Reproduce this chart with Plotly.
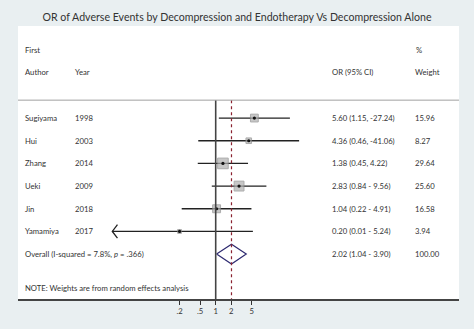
import plotly.graph_objects as go
import numpy as np

authors = ["Sugiyama", "Hui", "Zhang", "Ueki", "Jin", "Yamamiya"]
years = ["1998", "2003", "2014", "2009", "2018", "2017"]
or_est = [5.60, 4.36, 1.38, 2.83, 1.04, 0.20]
ci_lo = [1.15, 0.46, 0.45, 0.84, 0.22, 0.01]
ci_hi = [27.24, 41.06, 4.22, 9.56, 4.91, 5.24]
or_text = ["5.60 (1.15, -27.24)", "4.36 (0.46, -41.06)", "1.38 (0.45, 4.22)",
           "2.83 (0.84 - 9.56)", "1.04 (0.22 - 4.91)", "0.20 (0.01 - 5.24)"]
weights = ["15.96", "8.27", "29.64", "25.60", "16.58", "3.94"]
w_num = [15.96, 8.27, 29.64, 25.60, 16.58, 3.94]

overall_label = "Overall (I-squared = 7.8%, <i>p</i> = .366)"
overall_est, overall_lo, overall_hi = 2.02, 1.04, 3.90
overall_text = "2.02 (1.04 - 3.90)"
overall_weight = "100.00"
note = "NOTE: Weights are from random effects analysis"
tick_vals = [0.2, 0.5, 1, 2, 5]
tick_text = [".2", ".5", "1", "2", "5"]
clipped = [False, False, False, False, False, True]

title = "OR of Adverse Events by Decompression and Endotherapy Vs Decompression Alone"

TXT = "#333333"
FONT = "Lato"
rows = list(range(len(authors)))
overall_row = len(authors)
note_row = 7.5
top_line = -0.79

fig = go.Figure()

# CI lines
for i in rows:
    fig.add_trace(go.Scatter(x=[ci_lo[i], ci_hi[i]], y=[i, i], mode="lines",
                             line=dict(color="#222", width=1.3),
                             showlegend=False, hoverinfo="skip"))
    if clipped[i]:
        lo = ci_lo[i]
        fig.add_trace(go.Scatter(x=[lo * 10 ** 0.1, lo, lo * 10 ** 0.1], y=[i - 0.3, i, i + 0.3],
                                 mode="lines", line=dict(color="#222", width=1.3),
                                 showlegend=False, hoverinfo="skip"))

# weight squares
sizes = [np.sqrt(w) * 1.95 for w in w_num]
fig.add_trace(go.Scatter(x=or_est, y=rows, mode="markers",
                         marker=dict(symbol="square", size=sizes, color="#b0b0b0",
                                     line=dict(color="#8a8a8a", width=1)),
                         showlegend=False, hoverinfo="skip"))
fig.add_trace(go.Scatter(x=or_est, y=rows, mode="markers",
                         marker=dict(symbol="circle", size=3.2, color="#111"),
                         showlegend=False, hoverinfo="skip"))

# diamond
fig.add_trace(go.Scatter(x=[overall_lo, overall_est, overall_hi, overall_est, overall_lo],
                         y=[overall_row, overall_row - 0.44, overall_row, overall_row + 0.44, overall_row],
                         mode="lines", line=dict(color="#2e2a70", width=1.2),
                         showlegend=False, hoverinfo="skip"))

# reference lines
fig.add_shape(type="line", xref="x", yref="y", x0=1, x1=1, y0=top_line, y1=7.98,
              line=dict(color="#444", width=1.6))
fig.add_shape(type="line", xref="x", yref="y", x0=overall_est, x1=overall_est, y0=top_line, y1=7.98,
              line=dict(color="#8b2230", width=1.2, dash="dot"))
fig.add_shape(type="line", xref="paper", yref="y", x0=0, x1=1, y0=top_line, y1=top_line,
              line=dict(color="#a0a0a0", width=1))

def txt(x, y, s):
    fig.add_annotation(x=x, y=y, xref="paper", yref="y", text=s, showarrow=False,
                       xanchor="left", yanchor="middle",
                       font=dict(family=FONT, size=7.7, color=TXT))

X_AUTH, X_YEAR, X_OR, X_W = 0.012, 0.125, 0.707, 0.896
txt(X_AUTH, -3.0, "First")
txt(X_AUTH, -2.03, "Author")
txt(X_YEAR, -2.03, "Year")
txt(X_OR, -2.03, "OR (95% CI)")
txt(X_W + 0.003, -3.0, "%")
txt(X_W, -2.03, "Weight")
for i in rows:
    txt(X_AUTH, i, authors[i])
    txt(X_YEAR, i, years[i])
    txt(X_OR, i, or_text[i])
    txt(X_W, i, weights[i])
txt(X_AUTH, overall_row, overall_label)
txt(X_OR, overall_row, overall_text)
txt(X_W, overall_row, overall_weight)
txt(X_AUTH, note_row, note)

px_per_dec = 51.7
left_px, right_px, one_px = 18, 459, 215.7
xr = [(left_px - one_px) / px_per_dec, (right_px - one_px) / px_per_dec]

fig.update_layout(
    width=474, height=329,
    margin=dict(l=18, r=15, t=26, b=30),
    paper_bgcolor="#e9eff1",
    plot_bgcolor="white",
    title=dict(text=title, x=0.5, xanchor="center", y=1 - 17 / 329, yanchor="middle",
               font=dict(family=FONT, size=10.6, color="#333")),
    xaxis=dict(type="log", range=xr, tickvals=tick_vals, ticktext=tick_text,
               showgrid=False, zeroline=False, showline=True, linecolor="#444", linewidth=1.5,
               ticks="outside", ticklen=4, tickcolor="#333", tickwidth=1,
               tickfont=dict(family=FONT, size=7.7, color=TXT)),
    yaxis=dict(range=[7.98, -4.06], showgrid=False, zeroline=False, showticklabels=False,
               showline=False),
)

fig.write_html("out.html")
